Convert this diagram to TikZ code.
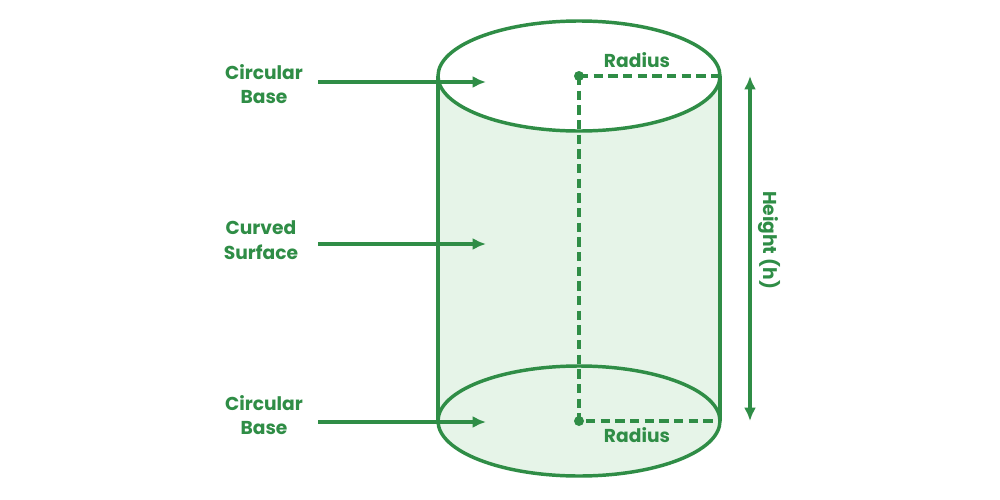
\documentclass[tikz,border=0pt]{standalone}
\usepackage{fontspec}
\usetikzlibrary{arrows.meta}
\setmainfont{Poppins}
\definecolor{gg}{HTML}{2F8D46}
\definecolor{lg}{HTML}{E6F4E8}
\begin{document}
\begin{tikzpicture}[x=0.75pt,y=-0.75pt,
  lbl/.style={text=gg,font=\fontsize{14}{18.5}\selectfont\bfseries,align=center},
  ln/.style={draw=gg,line width=2.6pt},
  dsh/.style={draw=gg,line width=2.6pt,dash pattern=on 7pt off 4pt},
  arr/.style={draw=gg,line width=2.8pt,-{Latex[length=10pt,width=9pt]}}]
\useasboundingbox[fill=white] (0,0) rectangle (1000,500);
\fill[lg] (438,76) rectangle (720,421);
\fill[lg] (579,421) ellipse [x radius=141,y radius=55];
\path[ln,fill=white] (579,76) ellipse [x radius=141,y radius=55];
\path[ln] (579,421) ellipse [x radius=141,y radius=55];
\draw[ln] (438,76) -- (438,421) (720,76) -- (720,421);
\coordinate (ct) at (579,76); \coordinate (cb) at (579,421);
\coordinate (rt) at (720,76); \coordinate (rb) at (720,421);
\draw[dsh] (ct) -- (rt);
\draw[dsh] (ct) -- (cb) -- (rb);
\fill[gg] (ct) circle (5); \fill[gg] (cb) circle (5);
\node[lbl] (r1) at (637,60) {Radius};
\node[lbl] (r2) at (637,435) {Radius};
\coordinate (h1) at (750,76); \coordinate (h2) at (750,421);
\draw[draw=gg,line width=2.8pt,{Latex[length=10pt,width=9pt]}-{Latex[length=10pt,width=9pt]}] (h1) -- (h2);
\node[lbl,rotate=-90] (h) at (769,240) {Height (h)};
\node[lbl] (a) at (264,84) {Circular\\Base};
\node[lbl] (b) at (261,240) {Curved\\Surface};
\node[lbl] (c) at (264,415) {Circular\\Base};
\coordinate (ta) at (486,82); \coordinate (tb) at (486,244); \coordinate (tc) at (486,422);
\draw[arr] (318,82) -- (ta);
\draw[arr] (318,244) -- (tb);
\draw[arr] (318,422) -- (tc);
\end{tikzpicture}
\end{document}
